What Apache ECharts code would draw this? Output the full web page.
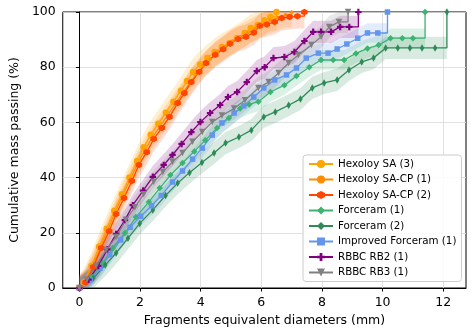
<!DOCTYPE html>
<html>
<head>
<meta charset="utf-8">
<script src="https://cdn.jsdelivr.net/npm/echarts@6/dist/echarts.min.js"></script>
<style>
  html, body { margin: 0; padding: 0; background: #ffffff; }
  #chart { width: 474px; height: 333px; }
</style>
</head>
<body>
<div id="chart"></div>
<script>
// Cumulative mass passing (%) versus fragment equivalent diameter (mm), [diameter, percent]
const hexoloySA3 = [[0,0],[0.15,2],[0.4,8],[0.65,15],[0.9,21.5],[1.15,28],[1.4,34],[1.65,40],[1.9,46],[2.12,51],[2.35,55.5],[2.6,59.5],[2.85,63.5],[3.1,67.5],[3.35,71.5],[3.55,75],[3.75,78.3],[3.98,81],[4.22,83.3],[4.46,85.5],[4.7,87.3],[4.95,88.8],[5.2,90.6],[5.45,92.4],[5.65,94.2],[5.88,95.3],[6.1,97],[6.3,98.2],[6.5,100]];
const hexoloySACP1 = [[0,0],[0.18,2.5],[0.43,8],[0.68,14.5],[0.93,21],[1.18,27.5],[1.43,33.5],[1.68,39.5],[1.92,45],[2.16,50],[2.4,54.5],[2.65,58.5],[2.9,62.5],[3.15,66.5],[3.4,70.5],[3.62,74],[3.85,77.5],[4.08,80.5],[4.32,83],[4.56,85.5],[4.8,87.5],[5.05,89.5],[5.3,91],[5.55,92.5],[5.8,94],[6.05,95.5],[6.3,97],[6.55,98],[6.8,99],[7.0,100]];
const hexoloySACP2 = [[0,0],[0.2,2],[0.46,7.6],[0.72,14.5],[0.98,20.6],[1.21,26.8],[1.47,32.6],[1.73,38.8],[1.96,44.6],[2.22,49.2],[2.45,54],[2.72,58],[2.97,62],[3.24,67],[3.46,70.6],[3.69,74.6],[3.95,78.3],[4.18,81.5],[4.48,84.5],[4.74,86.5],[4.97,88.5],[5.23,90.2],[5.49,91],[5.75,92.5],[5.95,95],[6.18,95.5],[6.44,96.4],[6.67,97.8],[6.93,98.2],[7.19,98.5],[7.42,100]];
const forceram1 = [[0,0],[0.42,4],[0.78,9],[1.1,14.5],[1.5,19.9],[1.86,25.7],[2.29,31.2],[2.65,36.2],[3.0,40.9],[3.4,45.3],[3.79,49.5],[4.15,53.5],[4.54,58],[4.93,61.6],[5.3,65],[5.6,66.5],[5.9,67.5],[6.3,71],[6.76,73.5],[7.16,76.8],[7.58,80],[7.97,82.6],[8.37,82.6],[8.73,82.6],[9.12,85],[9.5,86.8],[9.87,88],[10.26,90.5],[10.65,90.5],[11.0,90.5],[11.4,100]];
const forceram2 = [[0,0],[0.46,3.6],[0.85,8.3],[1.21,12.7],[1.6,18],[1.99,23.4],[2.42,28.3],[2.84,33.5],[3.24,38],[3.63,41.8],[4.04,45.5],[4.44,48.9],[4.82,52.5],[5.26,54.7],[5.67,57.2],[6.08,62],[6.46,63.8],[6.9,66.2],[7.29,68.5],[7.68,72.5],[8.07,74.3],[8.5,75.4],[8.89,79],[9.31,81.9],[9.7,83.3],[10.1,87],[10.5,87],[10.9,87],[11.3,87],[11.73,87],[12.12,100]];
const improvedForceram1 = [[0,0],[0.35,2.9],[0.68,7.2],[1.0,12],[1.36,17.4],[1.67,22],[2.02,26],[2.38,29.8],[2.7,33.5],[3.07,38.4],[3.4,42.4],[3.73,46.7],[4.05,50.7],[4.38,55.4],[4.7,59.8],[5.1,63.4],[5.42,66],[5.75,69.2],[6.08,72.5],[6.44,75.4],[6.83,77.2],[7.16,79.7],[7.48,83.3],[7.88,85.1],[8.2,85.1],[8.5,86.6],[8.82,88.4],[9.18,90.5],[9.5,92.4],[9.84,92.4],[10.16,100]];
const rbbcRB2 = [[0,0],[0.3,3],[0.62,8],[0.92,14],[1.21,19.6],[1.5,24.6],[1.76,30],[2.1,35.3],[2.42,40.3],[2.78,44.6],[3.07,48.2],[3.37,52.2],[3.69,56.5],[3.99,60.1],[4.31,63.4],[4.64,66.3],[4.9,69.2],[5.2,71],[5.52,74.6],[5.85,78.6],[6.11,80],[6.4,83.3],[6.76,83.7],[7.09,85.5],[7.42,89.5],[7.71,92.8],[7.97,92.8],[8.3,92.8],[8.6,94.6],[8.9,94.6],[9.2,100]];
const rbbcRB3 = [[0,0],[0.25,3],[0.55,8],[0.88,13.8],[1.21,18.5],[1.53,24.6],[1.83,29.3],[2.12,34],[2.45,38.5],[2.75,42],[3.07,45.7],[3.4,48.9],[3.73,53],[4.05,56.5],[4.38,60.1],[4.7,62.5],[5.1,65],[5.46,68],[5.9,72.5],[6.24,74.6],[6.57,77.9],[6.9,81.5],[7.22,84.4],[7.65,88],[7.97,91],[8.24,94.6],[8.56,96.4],[8.86,100]];

const seriesNames = ['Hexoloy SA (3)', 'Hexoloy SA-CP (1)', 'Hexoloy SA-CP (2)', 'Forceram (1)', 'Forceram (2)', 'Improved Forceram (1)', 'RBBC RB2 (1)', 'RBBC RB3 (1)'];
const seriesData = [hexoloySA3, hexoloySACP1, hexoloySACP2, forceram1, forceram2, improvedForceram1, rbbcRB2, rbbcRB3];
// Half-height of each confidence band, in percent
const bandHalfWidth = [5, 4.5, 4.5, 3.5, 4, 3.5, 4, 4];

const xTicks = [0, 2, 4, 6, 8, 10, 12];

const colors = ['#FFA500', '#FF8C00', '#FF4500', '#3CB371', '#2E8B57', '#6495ED', '#800080', '#808080'];
const hexagon = 'path://M0,-1 L0.866,-0.5 L0.866,0.5 L0,1 L-0.866,0.5 L-0.866,-0.5 Z';
const plusFilled = 'path://M-1,-0.34 L-0.34,-0.34 L-0.34,-1 L0.34,-1 L0.34,-0.34 L1,-0.34 L1,0.34 L0.34,0.34 L0.34,1 L-0.34,1 L-0.34,0.34 L-1,0.34 Z';
const markers = [
  { symbol: 'circle', size: 6.5, rotate: 0 },
  { symbol: 'circle', size: 3.5, rotate: 0 },
  { symbol: hexagon, size: 6.5, rotate: 0 },
  { symbol: 'diamond', size: [6.5, 6.5], rotate: 0 },
  { symbol: 'diamond', size: [4.5, 7.5], rotate: 0 },
  { symbol: 'rect', size: 5.5, rotate: 0 },
  { symbol: plusFilled, size: 6.5, rotate: 0 },
  { symbol: 'triangle', size: 6.5, rotate: 180 }
];

const FONT = 'DejaVu Sans';

// Curve vertices: straight segments between samples, except the final rise to 100 %,
// which runs flat and then jumps vertically (step after the last plateau).
function curveVertices(points) {
  const out = [];
  points.forEach((p, i) => {
    if (i === points.length - 1 && i > 0) {
      out.push({ value: [p[0], points[i - 1][1]], symbol: 'none' });
    }
    out.push({ value: [p[0], p[1]] });
  });
  return out;
}

// Shaded band following the curve
function bandRenderer(points, half, color) {
  return function (params, api) {
    const verts = curveVertices(points).map(d => d.value);
    const upper = verts.map(v => api.coord([v[0], Math.min(100, v[1] + half)]));
    const lower = verts.map(v => api.coord([v[0], Math.max(0, v[1] - half)]));
    return {
      type: 'polygon',
      shape: { points: upper.concat(lower.reverse()) },
      style: { fill: color, opacity: 0.18 }
    };
  };
}

const series = [];
seriesData.forEach((pts, i) => {
  series.push({
    name: 'band ' + seriesNames[i],
    type: 'custom',
    coordinateSystem: 'cartesian2d',
    renderItem: bandRenderer(pts, bandHalfWidth[i], colors[i]),
    data: [[0, 0]],
    silent: true,
    clip: true,
    z: 1
  });
});
seriesData.forEach((pts, i) => {
  series.push({
    name: seriesNames[i],
    type: 'line',
    data: curveVertices(pts),
    color: colors[i],
    symbol: markers[i].symbol,
    symbolSize: markers[i].size,
    symbolRotate: markers[i].rotate,
    showSymbol: true,
    showAllSymbol: true,
    lineStyle: { width: 1.3, color: colors[i] },
    itemStyle: { color: colors[i], borderWidth: 0 },
    clip: false,
    z: 3,
    animation: false
  });
});

const chart = echarts.init(document.getElementById('chart'), null, { renderer: 'canvas' });
chart.setOption({
  animation: false,
  textStyle: { fontFamily: FONT },
  grid: {
    left: 59, right: 8, top: 12, bottom: 45,
    show: true, borderColor: '#000', borderWidth: 1, backgroundColor: 'transparent'
  },
  xAxis: {
    type: 'value',
    min: -0.55, max: 12.75,
    splitNumber: 7,
    name: 'Fragments equivalent diameters (mm)',
    nameLocation: 'middle',
    nameGap: 23,
    nameTextStyle: { fontFamily: FONT, fontSize: 12.5, color: '#000' },
    axisLine: { show: true, lineStyle: { color: '#000', width: 1 } },
    axisTick: { show: true, length: 3.5, inside: false, customValues: xTicks, lineStyle: { color: '#000' } },
    axisLabel: { customValues: xTicks, fontFamily: FONT, fontSize: 12.5, color: '#000', margin: 8 },
    splitLine: { show: true, lineStyle: { color: '#d9d9d9', width: 0.8 } }
  },
  yAxis: {
    type: 'value',
    min: 0, max: 100, interval: 20,
    name: 'Cumulative mass passing (%)',
    nameLocation: 'middle',
    nameGap: 41,
    nameTextStyle: { fontFamily: FONT, fontSize: 12.5, color: '#000' },
    axisLine: { show: true, lineStyle: { color: '#000', width: 1 } },
    axisTick: { show: true, length: 3.5, lineStyle: { color: '#000' } },
    axisLabel: { fontFamily: FONT, fontSize: 12.5, color: '#000', margin: 7 },
    splitLine: { show: true, lineStyle: { color: '#d9d9d9', width: 0.8 } }
  },
  legend: {
    data: seriesNames,
    orient: 'vertical',
    left: 303, top: 155,
    padding: [4, 5, 4, 5],
    itemWidth: 24, itemHeight: 10, itemGap: 5.5,
    backgroundColor: 'rgba(255,255,255,0.85)',
    borderColor: '#cccccc', borderWidth: 1, borderRadius: 3,
    textStyle: { fontFamily: FONT, fontSize: 10.3, color: '#000' }
  },
  series: series
});
</script>
</body>
</html>
